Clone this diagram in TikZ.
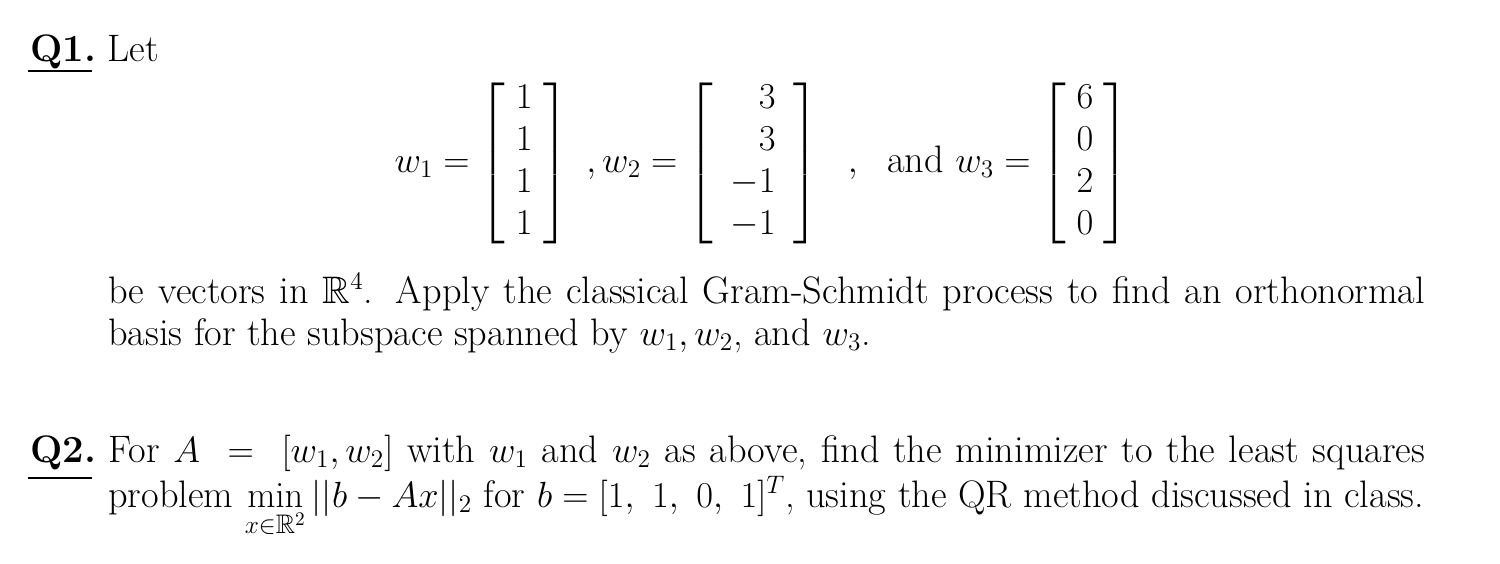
\documentclass[tikz,border=0pt]{standalone}
\usepackage{amsmath,amssymb}
\begin{document}
\begin{tikzpicture}[x=0.02cm,y=-0.02cm,
  txt/.style={anchor=base west,inner sep=0pt,font=\fontsize{21.8}{24}\selectfont},
  uline/.style={line width=1.2pt}]
\useasboundingbox (0,0) rectangle (1500,564);
\node[txt] (q1) at (30,62) {\textbf{Q1.}\ Let};
\draw[uline] (28,71) -- (92,71);
\node[txt,anchor=center] (mat) at (762,163) {\renewcommand\arraystretch{1.0}$
w_1 = \left[\begin{array}{@{\hspace{6pt}}c@{\hspace{6pt}}}1\\1\\1\\1\end{array}\right]\ , w_2 = \left[\begin{array}{@{\hspace{10pt}}r@{\hspace{10pt}}}3\\3\\-1\\-1\end{array}\right]\ \ ,\ \ \text{and}\ w_3 = \left[\begin{array}{@{\hspace{6pt}}c@{\hspace{6pt}}}6\\0\\2\\0\end{array}\right]$};
\node[txt] (l2) at (108,303) {\makebox[26.34cm][s]{be vectors in $\mathbb{R}^4$. Apply the classical Gram-Schmidt process to find an orthonormal}};
\node[txt] (l3) at (108,345) {basis for the subspace spanned by $w_1, w_2$, and $w_3$.};
\node[txt] (q2) at (30,462) {\textbf{Q2.}};
\draw[uline] (28,478) -- (92,478);
\node[txt] (l4) at (108,462) {\makebox[26.34cm][s]{For $A\ =\ [w_1, w_2]$ with $w_1$ and $w_2$ as above, find the minimizer to the least squares}};
\node[txt] (l5) at (108,507) {problem $\min\limits_{x\in\mathbb{R}^2} ||b-Ax||_2$ for $b=[1,\ 1,\ 0,\ 1]^T$, using the QR method discussed in class.};
\end{tikzpicture}
\end{document}
